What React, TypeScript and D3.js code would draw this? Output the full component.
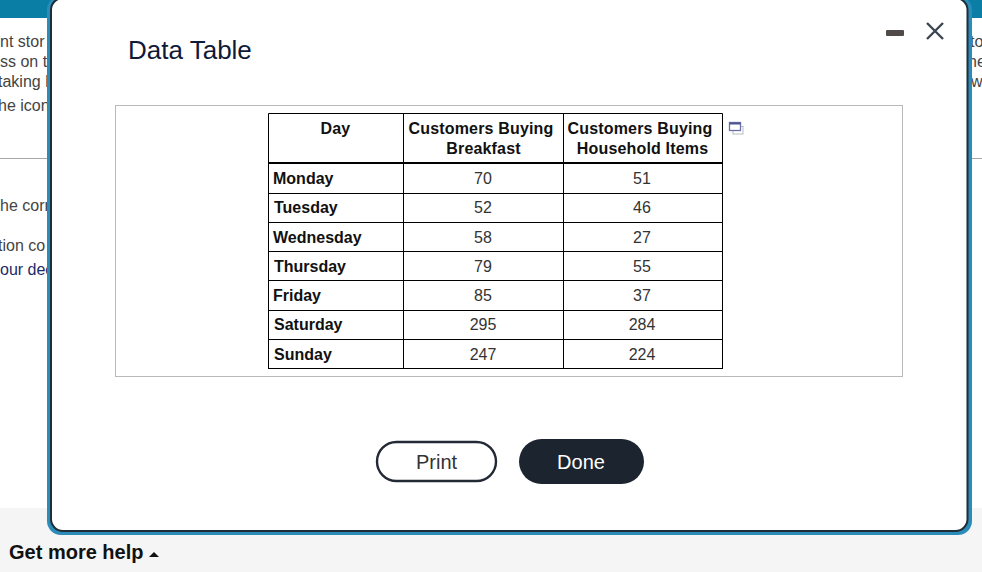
import { useRef, useEffect } from 'react'
import * as d3 from 'd3'

const days = ['Monday', 'Tuesday', 'Wednesday', 'Thursday', 'Friday', 'Saturday', 'Sunday']
const breakfast = [70, 52, 58, 79, 85, 295, 247]
const household = [51, 46, 27, 55, 37, 284, 224]
const dayOffsets = [0, 1, 0, 1, 0, 1, 1]
const columns = ['day', 'breakfast', 'household']
const headers = [['Day'], ['Customers Buying', 'Breakfast'], ['Customers Buying', 'Household Items']]
const leftText = ['nt stor', 'ss on t', 'taking l', 'he icon', 'he corr', 'tion co', 'our dec']
const leftX = [0, 0, -2, -2, 0, -2, 0]
const leftY = [47, 67, 87, 111, 211, 251, 275]
const leftFill = ['#444', '#444', '#444', '#444', '#444', '#444', '#1c2a6b']
const rightText = ['to', 'he', 'w']
const rightX = [970, 968, 971]
const rightY = [47, 67, 87]

const font = '"Liberation Sans", Arial, sans-serif'

const App = () => {
  const ref = useRef<SVGSVGElement>(null)

  useEffect(() => {
    if (!ref.current) return
    const svg = d3.select(ref.current)
    svg.selectAll('*').remove()
    svg.attr('font-family', font)

    // page behind the dialog
    svg.append('rect').attr('width', 982).attr('height', 572).attr('fill', '#fff')
    svg.append('rect').attr('width', 982).attr('height', 18).attr('fill', '#0a7ea4')
    svg.append('rect').attr('y', 508).attr('width', 982).attr('height', 64).attr('fill', '#f5f5f5')
    svg.append('line').attr('x1', 0).attr('x2', 982).attr('y1', 158.5).attr('y2', 158.5).attr('stroke', '#a8a8a8')
    leftText.forEach((t, i) => {
      svg.append('text').attr('x', leftX[i]).attr('y', leftY[i]).attr('font-size', 16).attr('fill', leftFill[i]).text(t)
    })
    rightText.forEach((t, i) => {
      svg.append('text').attr('x', rightX[i]).attr('y', rightY[i]).attr('font-size', 16).attr('fill', '#444').text(t)
    })
    svg.append('text').attr('x', 9).attr('y', 559).attr('font-size', 20).attr('font-weight', 700)
      .attr('fill', '#111').text('Get more help')
    svg.append('path').attr('d', 'M149 557 L154 552 L159 557 Z').attr('fill', '#111')

    // dialog
    svg.append('rect').attr('x', 47).attr('y', -4).attr('width', 925).attr('height', 539).attr('rx', 14)
      .attr('fill', '#2b8cba')
    svg.append('rect').attr('x', 51).attr('y', -2).attr('width', 916.5).attr('height', 533).attr('rx', 12)
      .attr('fill', '#fff').attr('stroke', '#1f2d36').attr('stroke-width', 2)

    svg.append('text').attr('x', 128).attr('y', 59).attr('font-size', 26).attr('fill', '#0f1a38').text('Data Table')
    svg.append('rect').attr('x', 886).attr('y', 30).attr('width', 18).attr('height', 6).attr('rx', 1).attr('fill', '#504a48')
    svg.append('path').attr('d', 'M927 23 L943 39 M943 23 L927 39')
      .attr('stroke', '#3c4650').attr('stroke-width', 2.4).attr('fill', 'none')

    svg.append('rect').attr('x', 115.5).attr('y', 105.5).attr('width', 787).attr('height', 271)
      .attr('fill', '#fff').attr('stroke', '#b9b9b9')

    // table
    const y = d3.scaleBand<string>().domain(days).range([163.5, 368])
    const colEdge = d3.scaleOrdinal<string, number>().domain(columns).range([268.5, 403.5, 563.5])
    const colCenter = d3.scaleOrdinal<string, number>().domain(columns).range([335.5, 483, 642])
    const tableRight = 722.5
    const headerTop = 113.5
    const headerBottom = 163

    const t = svg.append('g')
    t.append('line').attr('x1', colEdge('day')).attr('x2', tableRight).attr('y1', headerTop).attr('y2', headerTop)
      .attr('stroke', '#000')
    t.append('line').attr('x1', colEdge('day')).attr('x2', tableRight).attr('y1', headerBottom).attr('y2', headerBottom)
      .attr('stroke', '#000').attr('stroke-width', 2)
    t.selectAll('line.row').data(days).enter().append('line').attr('class', 'row')
      .attr('x1', colEdge('day')).attr('x2', tableRight)
      .attr('y1', d => Math.round(y(d)! + y.bandwidth()) + 0.5)
      .attr('y2', d => Math.round(y(d)! + y.bandwidth()) + 0.5)
      .attr('stroke', '#000')
    const edges = [...columns.map(c => colEdge(c)), tableRight]
    t.selectAll('line.col').data(edges).enter().append('line').attr('class', 'col')
      .attr('x1', d => d).attr('x2', d => d).attr('y1', headerTop).attr('y2', 369)
      .attr('stroke', '#000')

    const headerX = [[335.5], [481, 483.5], [640, 642.5]]
    headers.forEach((lines, c) => {
      lines.forEach((line, l) => {
        t.append('text').attr('x', headerX[c][l])
          .attr('y', 134 + l * 20).attr('text-anchor', 'middle')
          .attr('font-size', 16).attr('font-weight', 700).attr('letter-spacing', 0.17)
          .attr('fill', '#111').text(line)
      })
    })

    days.forEach((d, i) => {
      const base = y(d)! + y.bandwidth() / 2 + 6.15
      t.append('text').attr('x', 273 + dayOffsets[i]).attr('y', base).attr('font-size', 16)
        .attr('font-weight', 700).attr('fill', '#111').text(d)
      t.append('text').attr('x', colCenter('breakfast')).attr('y', base).attr('text-anchor', 'middle')
        .attr('font-size', 16).attr('fill', '#333').text(breakfast[i])
      t.append('text').attr('x', colCenter('household')).attr('y', base).attr('text-anchor', 'middle')
        .attr('font-size', 16).attr('fill', '#333').text(household[i])
    })

    // popout icon next to the table
    svg.append('rect').attr('x', 733).attr('y', 126.5).attr('width', 10).attr('height', 7.5)
      .attr('fill', '#fff').attr('stroke', '#b4bccb')
    svg.append('rect').attr('x', 729.5).attr('y', 122.5).attr('width', 11).attr('height', 8)
      .attr('fill', '#fff').attr('stroke', '#6a72a8').attr('stroke-width', 1.3)
    svg.append('line').attr('x1', 729.5).attr('x2', 740.5).attr('y1', 123.5).attr('y2', 123.5)
      .attr('stroke', '#4a5490').attr('stroke-width', 2)

    // buttons
    svg.append('rect').attr('x', 377).attr('y', 442).attr('width', 119).attr('height', 39).attr('rx', 19.5)
      .attr('fill', '#fff').attr('stroke', '#232a36').attr('stroke-width', 2.4)
    svg.append('text').attr('x', 436.5).attr('y', 469).attr('text-anchor', 'middle').attr('font-size', 20)
      .attr('fill', '#333').text('Print')
    svg.append('rect').attr('x', 519).attr('y', 439).attr('width', 125).attr('height', 45).attr('rx', 22.5)
      .attr('fill', '#1c2430')
    svg.append('text').attr('x', 581).attr('y', 469).attr('text-anchor', 'middle').attr('font-size', 20)
      .attr('fill', '#fff').text('Done')
  }, [])

  return <svg ref={ref} width={982} height={572} style={{ position: 'fixed', left: 0, top: 0 }} />
}

export default App
